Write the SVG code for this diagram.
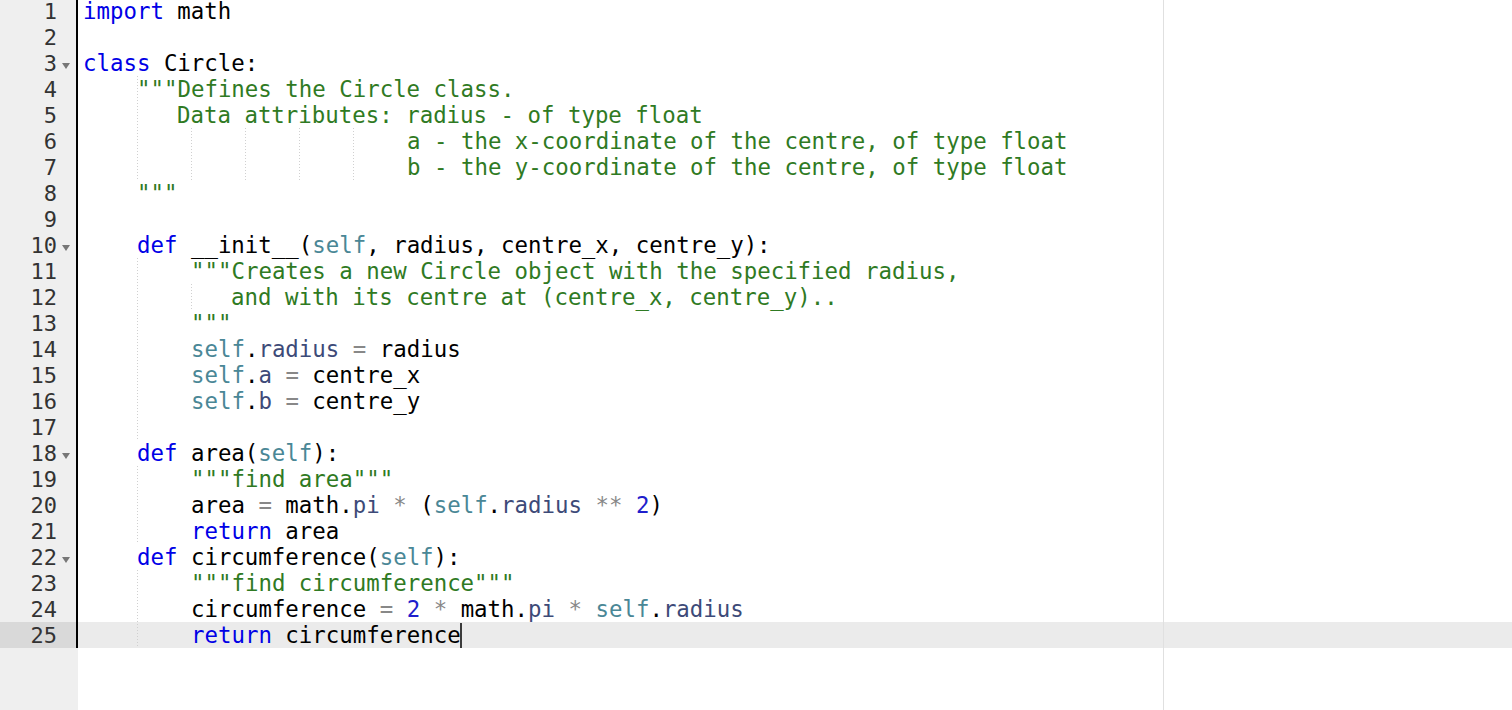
<svg xmlns="http://www.w3.org/2000/svg" width="1512" height="710" viewBox="0 0 1512 710">
<style>
text{font-family:"DejaVu Sans Mono","Liberation Mono",monospace;font-size:22.4px;fill:#000;white-space:pre}
.n{text-anchor:end;fill:#333;font-size:22px}
.k{fill:#0000e6}.s{fill:#2f7a23}.f{fill:#4a8796}.a{fill:#3d4a78}.o{fill:#888}.d{fill:#1f1fcc}
.g{stroke:#d0d0d0;stroke-width:1;stroke-dasharray:1 2}
</style>
<rect width="1512" height="710" fill="#fff"/>
<rect width="78" height="710" fill="#efefef"/>
<rect x="0" y="622" width="78" height="26" fill="#d9d9d9"/>
<rect x="78" y="622" width="1434" height="26" fill="#ebebeb"/>
<line x1="77" y1="0" x2="77" y2="648" stroke="#000" stroke-width="2"/>
<line x1="1163.5" y1="0" x2="1163.5" y2="710" stroke="#e0e0e0"/>
<g id="guides">
<line class="g" x1="137.5" y1="76" x2="137.5" y2="180"/>
<line class="g" x1="191.5" y1="128" x2="191.5" y2="180"/>
<line class="g" x1="245.5" y1="128" x2="245.5" y2="180"/>
<line class="g" x1="299.5" y1="128" x2="299.5" y2="180"/>
<line class="g" x1="353.5" y1="128" x2="353.5" y2="180"/>
<line class="g" x1="137.5" y1="258" x2="137.5" y2="440"/>
<line class="g" x1="191.5" y1="284" x2="191.5" y2="310"/>
<line class="g" x1="137.5" y1="466" x2="137.5" y2="544"/>
<line class="g" x1="137.5" y1="570" x2="137.5" y2="648"/>
</g>
<g id="linenumbers">
<text class="n" x="57" y="19">1</text><text class="n" x="57" y="45">2</text><text class="n" x="57" y="71">3</text>
<text class="n" x="57" y="97">4</text><text class="n" x="57" y="123">5</text><text class="n" x="57" y="149">6</text>
<text class="n" x="57" y="175">7</text><text class="n" x="57" y="201">8</text><text class="n" x="57" y="227">9</text>
<text class="n" x="57" y="253">10</text><text class="n" x="57" y="279">11</text><text class="n" x="57" y="305">12</text>
<text class="n" x="57" y="331">13</text><text class="n" x="57" y="357">14</text><text class="n" x="57" y="383">15</text>
<text class="n" x="57" y="409">16</text><text class="n" x="57" y="435">17</text><text class="n" x="57" y="461">18</text>
<text class="n" x="57" y="487">19</text><text class="n" x="57" y="513">20</text><text class="n" x="57" y="539">21</text>
<text class="n" x="57" y="565">22</text><text class="n" x="57" y="591">23</text><text class="n" x="57" y="617">24</text>
<text class="n" x="57" y="643">25</text>
<g fill="#777">
<polygon points="62,63 70,63 66,69"/><polygon points="62,245 70,245 66,251"/>
<polygon points="62,453 70,453 66,459"/><polygon points="62,557 70,557 66,563"/>
</g>
</g>
<g id="code">
<text x="83" y="19"><tspan class="k">import</tspan> math</text>
<text x="83" y="71"><tspan class="k">class</tspan> Circle:</text>
<text x="137" y="97" class="s">"""Defines the Circle class.</text>
<text x="177" y="123" class="s">Data attributes: radius - of type float</text>
<text x="407" y="149" class="s">a - the x-coordinate of the centre, of type float</text>
<text x="407" y="175" class="s">b - the y-coordinate of the centre, of type float</text>
<text x="137" y="201" class="s">"""</text>
<text x="137" y="253"><tspan class="k">def</tspan> __init__(<tspan class="f">self</tspan>, radius, centre_x, centre_y):</text>
<text x="191" y="279" class="s">"""Creates a new Circle object with the specified radius,</text>
<text x="231" y="305" class="s">and with its centre at (centre_x, centre_y)..</text>
<text x="191" y="331" class="s">"""</text>
<text x="191" y="357"><tspan class="f">self</tspan>.<tspan class="a">radius</tspan> <tspan class="o">=</tspan> radius</text>
<text x="191" y="383"><tspan class="f">self</tspan>.<tspan class="a">a</tspan> <tspan class="o">=</tspan> centre_x</text>
<text x="191" y="409"><tspan class="f">self</tspan>.<tspan class="a">b</tspan> <tspan class="o">=</tspan> centre_y</text>
<text x="137" y="461"><tspan class="k">def</tspan> area(<tspan class="f">self</tspan>):</text>
<text x="191" y="487" class="s">"""find area"""</text>
<text x="191" y="513">area <tspan class="o">=</tspan> math.<tspan class="a">pi</tspan> <tspan class="o">*</tspan> (<tspan class="f">self</tspan>.<tspan class="a">radius</tspan> <tspan class="o">**</tspan> <tspan class="d">2</tspan>)</text>
<text x="191" y="539"><tspan class="k">return</tspan> area</text>
<text x="137" y="565"><tspan class="k">def</tspan> circumference(<tspan class="f">self</tspan>):</text>
<text x="191" y="591" class="s">"""find circumference"""</text>
<text x="191" y="617">circumference <tspan class="o">=</tspan> <tspan class="d">2</tspan> <tspan class="o">*</tspan> math.<tspan class="a">pi</tspan> <tspan class="o">*</tspan> <tspan class="f">self</tspan>.<tspan class="a">radius</tspan></text>
<text x="191" y="643"><tspan class="k">return</tspan> circumference</text>
<line x1="461" y1="623" x2="461" y2="648" stroke="#000" stroke-width="1.5"/>
</g>
</svg>
